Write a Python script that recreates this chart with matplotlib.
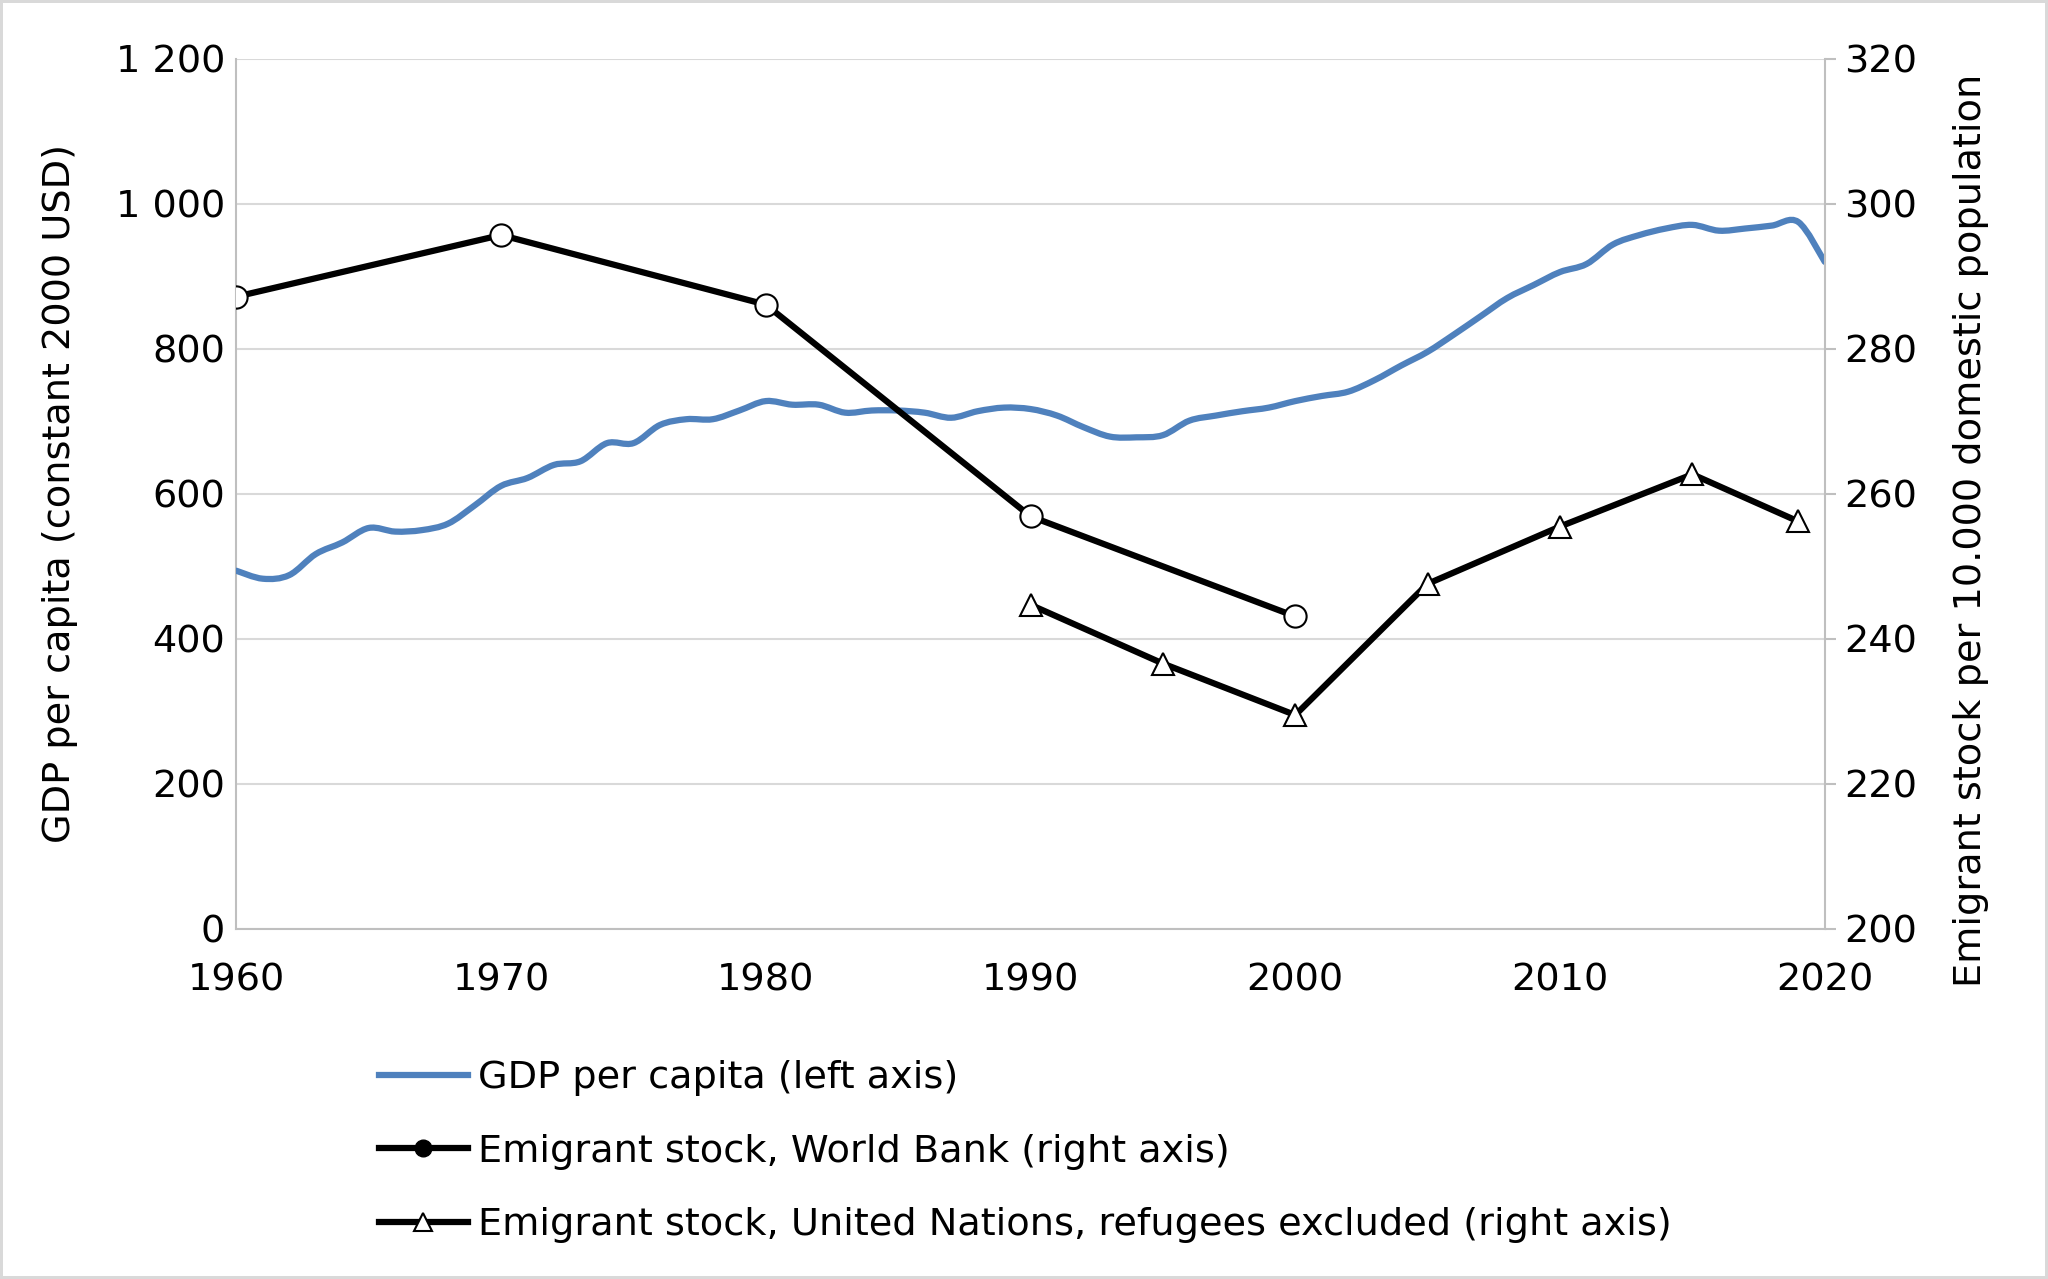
import matplotlib
matplotlib.use("Agg")
import matplotlib.pyplot as plt
from matplotlib.lines import Line2D
from matplotlib.path import Path
from matplotlib.patches import PathPatch

plt.rcParams['font.family'] = ['DejaVu Sans']

# GDP per capita, constant 2000 USD (left axis)
gdp_years = list(range(1960, 2021))
gdp_values = [494, 483, 488, 517, 533, 553, 548, 550, 559, 584,
              611, 622, 640, 645, 670, 670, 695, 703, 703, 715,
              728, 723, 723, 712, 715, 715, 712, 705, 714, 719,
              717, 708, 692, 679, 678, 681, 701, 708, 714, 719,
              728, 735, 741, 757, 777, 796, 820, 845, 870, 888,
              906, 917, 944, 957, 966, 971, 963, 966, 970, 975,
              920]

# Emigrant stock per 10.000 domestic population (right axis)
wb_years = [1960, 1970, 1980, 1990, 2000]
wb_values = [287.2, 295.7, 286.1, 256.9, 243.1]

un_years = [1990, 1995, 2000, 2005, 2010, 2015, 2019]
un_values = [244.7, 236.6, 229.5, 247.6, 255.5, 262.7, 256.2]

left_ticks = [0, 200, 400, 600, 800, 1000, 1200]
left_labels = ['0', '200', '400', '600', '800', '1 000', '1 200']
right_ticks = [200, 220, 240, 260, 280, 300, 320]
x_ticks = [1960, 1970, 1980, 1990, 2000, 2010, 2020]

blue = '#4F81BD'
grid = '#D9D9D9'
spine = '#BFBFBF'
fs = 27.5


def smooth_path(xs, ys):
    # smoothed line like the spreadsheet one: bezier segments through every point
    verts = [(xs[0], ys[0])]
    codes = [Path.MOVETO]
    n = len(xs)
    for i in range(n - 1):
        x0, y0 = xs[max(i - 1, 0)], ys[max(i - 1, 0)]
        x1, y1 = xs[i], ys[i]
        x2, y2 = xs[i + 1], ys[i + 1]
        x3, y3 = xs[min(i + 2, n - 1)], ys[min(i + 2, n - 1)]
        c1 = (x1 + (x2 - x0) / 6, y1 + (y2 - y0) / 6)
        c2 = (x2 - (x3 - x1) / 6, y2 - (y3 - y1) / 6)
        verts += [c1, c2, (x2, y2)]
        codes += [Path.CURVE4] * 3
    return Path(verts, codes)


fig = plt.figure(figsize=(20.48, 12.79), dpi=100)
fig.patch.set_edgecolor('#D9D9D9')
fig.patch.set_linewidth(3)

ax = fig.add_axes([0.1154, 0.2737, 0.7756, 0.6803])
ax2 = ax.twinx()

ax.add_patch(PathPatch(smooth_path(gdp_years, gdp_values), fill=False,
                       edgecolor=blue, lw=4.5, capstyle='round', zorder=3))
ax.set_xlim(1960, 2020)
ax.set_ylim(0, 1200)
ax.set_yticks(left_ticks)
ax.set_yticklabels(left_labels)
ax.set_xticks(x_ticks)
ax.grid(axis='y', color=grid, lw=1.5)
ax.set_axisbelow(True)
ax.tick_params(axis='y', length=0, labelsize=fs, pad=8)
ax.tick_params(axis='x', length=0, labelsize=fs, pad=24)
ax.set_ylabel('GDP per capita (constant 2000 USD)', fontsize=fs, labelpad=27)
for s in ['top', 'right']:
    ax.spines[s].set_visible(False)
for s in ['left', 'bottom']:
    ax.spines[s].set_color(spine)
    ax.spines[s].set_linewidth(1.5)

ax2.plot(wb_years, wb_values, color='black', lw=4.5, marker='o', ms=16,
         mfc='white', mec='black', mew=1.5, zorder=4)
ax2.plot(un_years, un_values, color='black', lw=4.5, marker='^', ms=16,
         mfc='white', mec='black', mew=1.5, zorder=4)
ax2.set_ylim(200, 320)
ax2.set_yticks(right_ticks)
ax2.tick_params(axis='y', length=8, width=1.5, color=spine, labelsize=fs, pad=6)
ax2.set_ylabel('Emigrant stock per 10.000 domestic population', fontsize=fs)
ax2.yaxis.set_label_coords(1.0805, 0.458)
for s in ['top', 'left', 'bottom']:
    ax2.spines[s].set_visible(False)
ax2.spines['right'].set_color(spine)
ax2.spines['right'].set_linewidth(1.5)
ax2.set_xlim(1960, 2020)

handles = [
    Line2D([], [], color=blue, lw=4.5),
    Line2D([], [], color='black', lw=4.5, marker='o', ms=12, mfc='black', mec='black'),
    Line2D([], [], color='black', lw=4.5, marker='^', ms=13, mfc='white', mec='black', mew=1.5),
]
labels = ['GDP per capita (left axis)',
          'Emigrant stock, World Bank (right axis)',
          'Emigrant stock, United Nations, refugees excluded (right axis)']
fig.legend(handles, labels, loc='upper left', bbox_to_anchor=(0.185, 0.171),
           frameon=False, fontsize=fs, handlelength=2.33, handletextpad=0.27,
           labelspacing=0.98, borderpad=0, borderaxespad=0)

fig.savefig('out.png', dpi=100)
